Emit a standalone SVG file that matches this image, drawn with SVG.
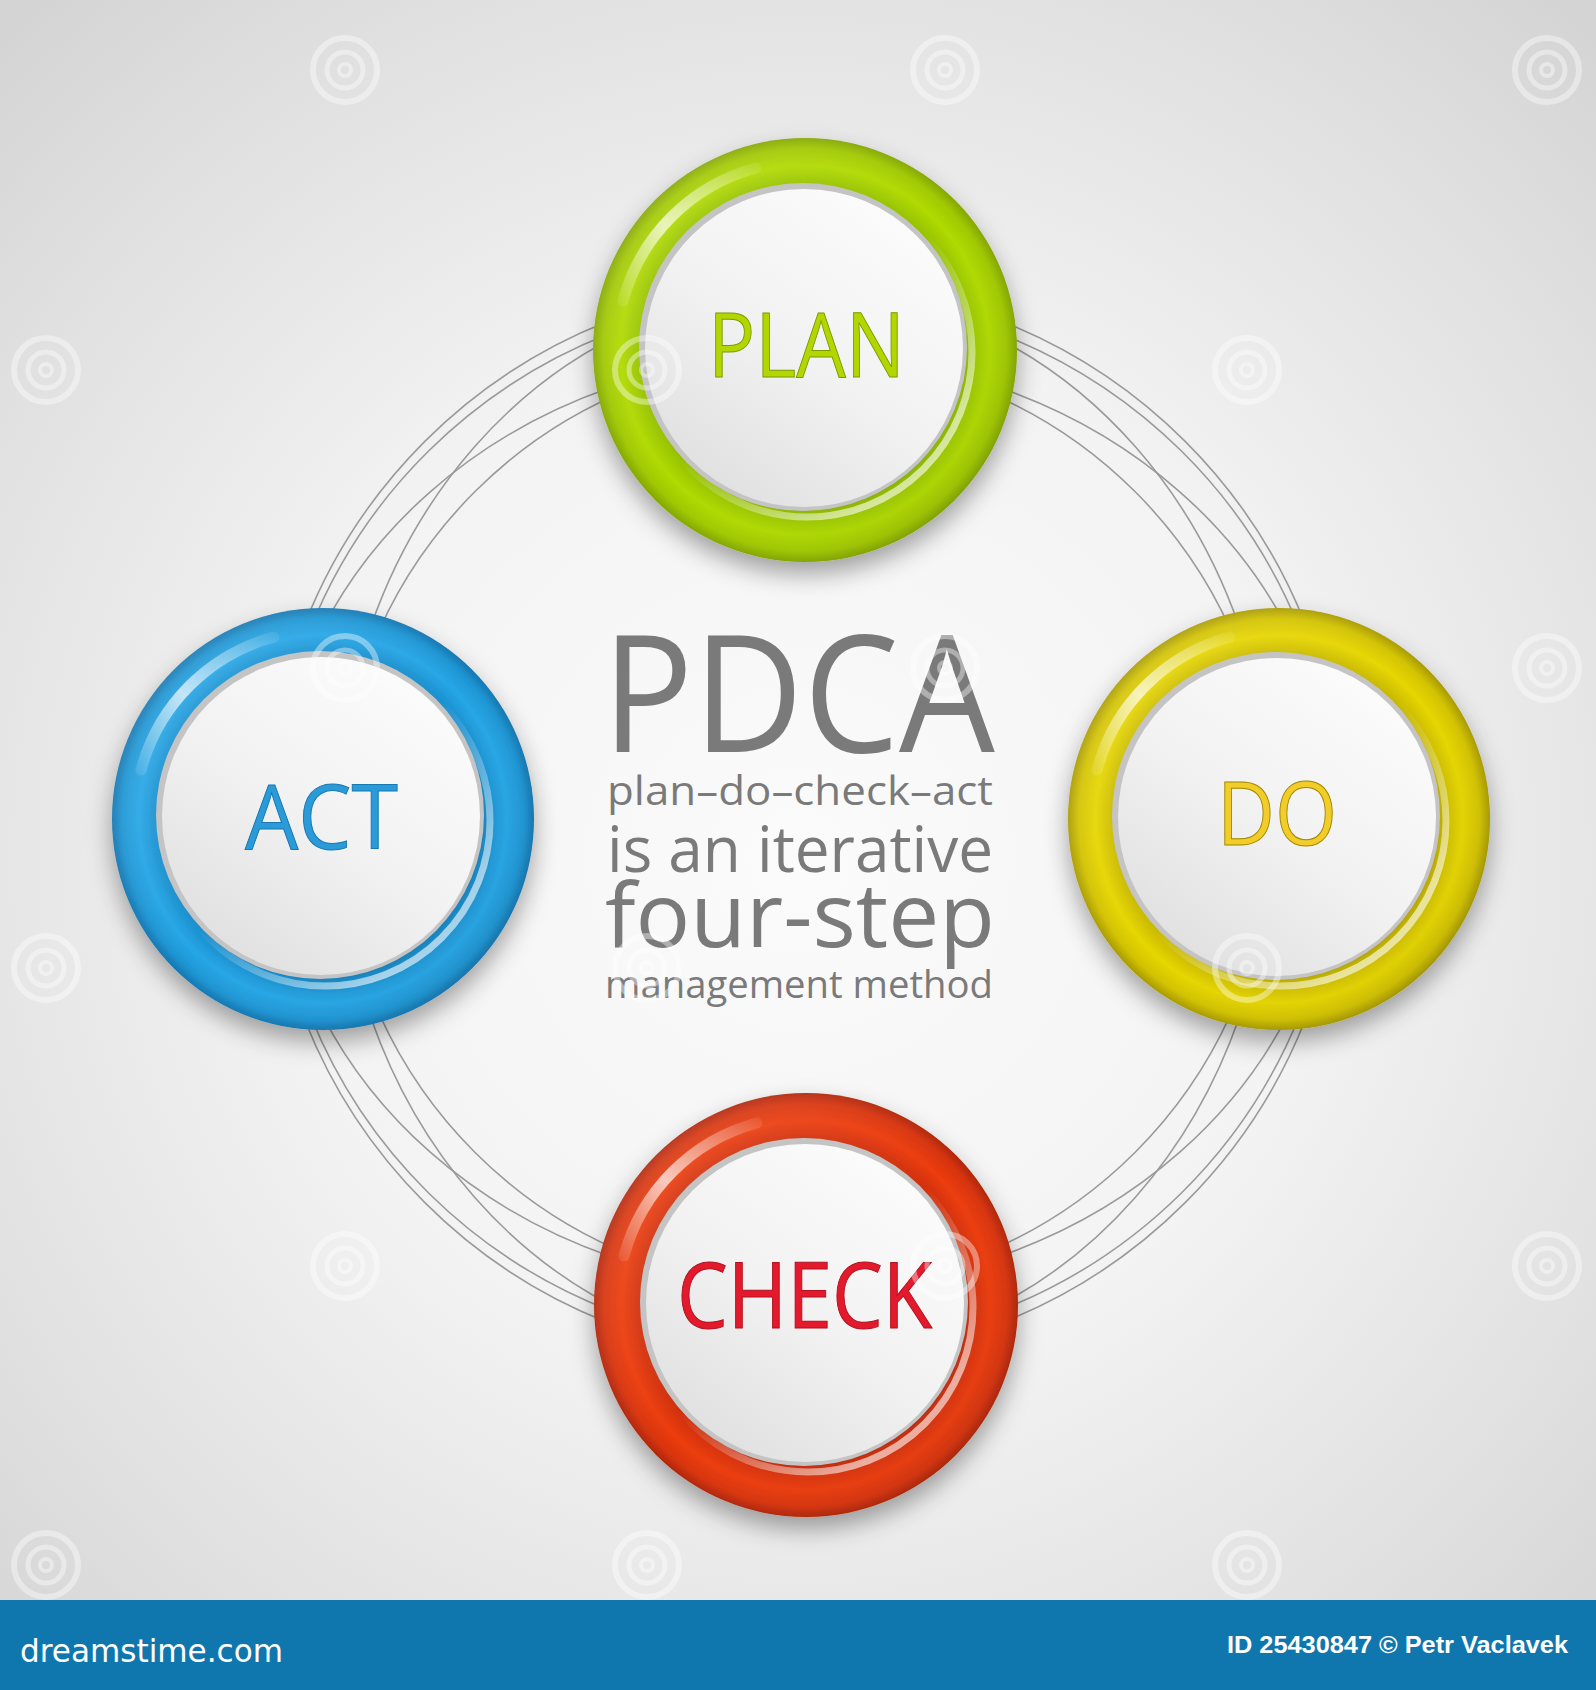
<svg xmlns="http://www.w3.org/2000/svg" width="1596" height="1690" viewBox="0 0 1596 1690">
<defs>
  <radialGradient id="bg" cx="800" cy="860" r="1150" gradientUnits="userSpaceOnUse">
    <stop offset="0" stop-color="#fbfbfb"/>
    <stop offset="0.45" stop-color="#f3f3f3"/>
    <stop offset="0.8" stop-color="#e0e0e0"/>
    <stop offset="1" stop-color="#d4d4d4"/>
  </radialGradient>
  <filter id="shadow" x="-30%" y="-30%" width="160%" height="170%">
    <feDropShadow dx="0" dy="12" stdDeviation="12" flood-color="#000" flood-opacity="0.35"/>
  </filter>
  <radialGradient id="ringGreen" cx="0.5" cy="0.5" r="0.5">
    <stop offset="0.72" stop-color="#7d9e00"/>
    <stop offset="0.78" stop-color="#97c200"/>
    <stop offset="0.87" stop-color="#b0da00"/>
    <stop offset="0.95" stop-color="#a0c800"/>
    <stop offset="1" stop-color="#84a600"/>
  </radialGradient>
  <radialGradient id="ringYellow" cx="0.5" cy="0.5" r="0.5">
    <stop offset="0.72" stop-color="#9c8e00"/>
    <stop offset="0.78" stop-color="#c8b800"/>
    <stop offset="0.87" stop-color="#e6d600"/>
    <stop offset="0.95" stop-color="#d2c200"/>
    <stop offset="1" stop-color="#a89a00"/>
  </radialGradient>
  <radialGradient id="ringBlue" cx="0.5" cy="0.5" r="0.5">
    <stop offset="0.72" stop-color="#1470a8"/>
    <stop offset="0.78" stop-color="#1a8ecc"/>
    <stop offset="0.87" stop-color="#26a6e6"/>
    <stop offset="0.95" stop-color="#1e96d4"/>
    <stop offset="1" stop-color="#1476b0"/>
  </radialGradient>
  <radialGradient id="ringRed" cx="0.5" cy="0.5" r="0.5">
    <stop offset="0.72" stop-color="#a82404"/>
    <stop offset="0.78" stop-color="#d0300a"/>
    <stop offset="0.87" stop-color="#ec3c0e"/>
    <stop offset="0.95" stop-color="#d8340c"/>
    <stop offset="1" stop-color="#b02606"/>
  </radialGradient>
  <linearGradient id="ringLight" x1="0" y1="0" x2="1" y2="1">
    <stop offset="0" stop-color="#fff" stop-opacity="0.15"/>
    <stop offset="0.5" stop-color="#fff" stop-opacity="0"/>
    <stop offset="1" stop-color="#000" stop-opacity="0.08"/>
  </linearGradient>
  <linearGradient id="gloss" x1="-190" y1="-30" x2="-30" y2="-190" gradientUnits="userSpaceOnUse">
    <stop offset="0" stop-color="#fff" stop-opacity="0"/>
    <stop offset="0.45" stop-color="#fff" stop-opacity="0.7"/>
    <stop offset="1" stop-color="#fff" stop-opacity="0"/>
  </linearGradient>
  <linearGradient id="disc" x1="0.8" y1="0.1" x2="0.2" y2="0.95">
    <stop offset="0" stop-color="#fbfbfb"/>
    <stop offset="0.5" stop-color="#f2f2f2"/>
    <stop offset="1" stop-color="#e0e0e0"/>
  </linearGradient>
  <linearGradient id="innerGlow" x1="0.2" y1="0.2" x2="0.8" y2="0.85">
    <stop offset="0.45" stop-color="#fff" stop-opacity="0"/>
    <stop offset="1" stop-color="#fff" stop-opacity="0.6"/>
  </linearGradient>
  <style>
    .rim { fill: #c4c4c4; }
    .shade { fill: url(#ringLight); }
    .gl { fill: none; stroke: url(#gloss); stroke-width: 11; stroke-linecap: round; }
    .glow { fill: none; stroke: url(#innerGlow); stroke-width: 7; }
    .lbl { font-family: "Open Sans", "Noto Sans", "Liberation Sans", sans-serif; font-weight: 400; }
    .conn { fill: none; stroke: #9a9a9a; stroke-width: 1.6; }
    .mid { font-family: "Open Sans", "Noto Sans", "Liberation Sans", sans-serif; fill: #7a7a7a; }
    .wm { fill: none; stroke: #ffffff; opacity: 0.4; }
  </style>
</defs>

<rect width="1596" height="1690" fill="url(#bg)"/>

<g id="connectors">
  <circle class="conn" cx="805" cy="822" r="538"/>
  <ellipse class="conn" cx="805" cy="822" rx="532" ry="525"/>
  <ellipse class="conn" cx="805" cy="822" rx="467" ry="531"/>
  <ellipse class="conn" cx="805" cy="822" rx="530" ry="467"/>
  <circle class="conn" cx="805" cy="822" r="467"/>
</g>

<g id="node-plan" transform="translate(805,350)">
  <circle r="212" fill="url(#ringGreen)" filter="url(#shadow)"/>
  <circle r="212" class="shade"/>
  <path class="gl" d="M -182 -49 A 188 188 0 0 1 -49 -182"/>
  <circle cx="2" cy="2" r="165" class="glow"/>
  <circle cx="-2" cy="-3" r="164" class="rim"/>
  <circle cx="-1" cy="-2" r="159" fill="url(#disc)"/>
  <text class="lbl" x="-97" y="27" font-size="90" textLength="197" lengthAdjust="spacingAndGlyphs" fill="#b2d600" stroke="#7e9a00" stroke-width="1">PLAN</text>
</g>

<g id="node-do" transform="translate(1279,819)">
  <circle r="211" fill="url(#ringYellow)" filter="url(#shadow)"/>
  <circle r="211" class="shade"/>
  <path class="gl" d="M -182 -49 A 188 188 0 0 1 -49 -182"/>
  <circle cx="2" cy="2" r="165" class="glow"/>
  <circle cx="-3" cy="-3" r="164" class="rim"/>
  <circle cx="-2" cy="-2" r="159" fill="url(#disc)"/>
  <text class="lbl" x="-62" y="26" font-size="88" textLength="120" lengthAdjust="spacingAndGlyphs" fill="#f2cc28" stroke="#a08800" stroke-width="1">DO</text>
</g>

<g id="node-act" transform="translate(323,819)">
  <circle r="211" fill="url(#ringBlue)" filter="url(#shadow)"/>
  <circle r="211" class="shade"/>
  <path class="gl" d="M -182 -49 A 188 188 0 0 1 -49 -182"/>
  <circle cx="2" cy="2" r="165" class="glow"/>
  <circle cx="-3" cy="-4" r="164" class="rim"/>
  <circle cx="-2" cy="-3" r="159" fill="url(#disc)"/>
  <text class="lbl" x="-78" y="30" font-size="90" textLength="153" lengthAdjust="spacingAndGlyphs" fill="#2a9ad8" stroke="#1878b0" stroke-width="1">ACT</text>
</g>

<g id="node-check" transform="translate(806,1305)">
  <circle r="212" fill="url(#ringRed)" filter="url(#shadow)"/>
  <circle r="212" class="shade"/>
  <path class="gl" d="M -182 -49 A 188 188 0 0 1 -49 -182"/>
  <circle cx="2" cy="2" r="165" class="glow"/>
  <circle cx="-2" cy="-3" r="164" class="rim"/>
  <circle cx="-1" cy="-2" r="159" fill="url(#disc)"/>
  <text class="lbl" x="-129" y="23" font-size="91" textLength="255" lengthAdjust="spacingAndGlyphs" fill="#e21a2c" stroke="#b01020" stroke-width="1">CHECK</text>
</g>

<g id="title">
  <text class="mid" x="602" y="752" font-size="163" textLength="393" lengthAdjust="spacingAndGlyphs">PDCA</text>
  <text class="mid" x="607" y="805" font-size="40" textLength="386" lengthAdjust="spacingAndGlyphs">plan–do–check–act</text>
  <text class="mid" x="607" y="872" font-size="64" textLength="386" lengthAdjust="spacingAndGlyphs">is an iterative</text>
  <text class="mid" x="605" y="947" font-size="90" textLength="390" lengthAdjust="spacingAndGlyphs">four-step</text>
  <text class="mid" x="605" y="998" font-size="38" textLength="388" lengthAdjust="spacingAndGlyphs">management method</text>
</g>

<g id="watermark-spirals">
  <g transform="translate(345,70)"><circle class="wm" r="32" stroke-width="6"/><circle class="wm" r="18" stroke-width="5"/><circle class="wm" r="6" stroke-width="4"/></g>
  <g transform="translate(945,70)"><circle class="wm" r="32" stroke-width="6"/><circle class="wm" r="18" stroke-width="5"/><circle class="wm" r="6" stroke-width="4"/></g>
  <g transform="translate(1547,70)"><circle class="wm" r="32" stroke-width="6"/><circle class="wm" r="18" stroke-width="5"/><circle class="wm" r="6" stroke-width="4"/></g>
  <g transform="translate(46,370)"><circle class="wm" r="32" stroke-width="6"/><circle class="wm" r="18" stroke-width="5"/><circle class="wm" r="6" stroke-width="4"/></g>
  <g transform="translate(647,370)"><circle class="wm" r="32" stroke-width="6"/><circle class="wm" r="18" stroke-width="5"/><circle class="wm" r="6" stroke-width="4"/></g>
  <g transform="translate(1247,370)"><circle class="wm" r="32" stroke-width="6"/><circle class="wm" r="18" stroke-width="5"/><circle class="wm" r="6" stroke-width="4"/></g>
  <g transform="translate(345,668)"><circle class="wm" r="32" stroke-width="6"/><circle class="wm" r="18" stroke-width="5"/><circle class="wm" r="6" stroke-width="4"/></g>
  <g transform="translate(945,668)"><circle class="wm" r="32" stroke-width="6"/><circle class="wm" r="18" stroke-width="5"/><circle class="wm" r="6" stroke-width="4"/></g>
  <g transform="translate(1547,668)"><circle class="wm" r="32" stroke-width="6"/><circle class="wm" r="18" stroke-width="5"/><circle class="wm" r="6" stroke-width="4"/></g>
  <g transform="translate(46,968)"><circle class="wm" r="32" stroke-width="6"/><circle class="wm" r="18" stroke-width="5"/><circle class="wm" r="6" stroke-width="4"/></g>
  <g transform="translate(647,968)"><circle class="wm" r="32" stroke-width="6"/><circle class="wm" r="18" stroke-width="5"/><circle class="wm" r="6" stroke-width="4"/></g>
  <g transform="translate(1247,968)"><circle class="wm" r="32" stroke-width="6"/><circle class="wm" r="18" stroke-width="5"/><circle class="wm" r="6" stroke-width="4"/></g>
  <g transform="translate(345,1266)"><circle class="wm" r="32" stroke-width="6"/><circle class="wm" r="18" stroke-width="5"/><circle class="wm" r="6" stroke-width="4"/></g>
  <g transform="translate(945,1266)"><circle class="wm" r="32" stroke-width="6"/><circle class="wm" r="18" stroke-width="5"/><circle class="wm" r="6" stroke-width="4"/></g>
  <g transform="translate(1547,1266)"><circle class="wm" r="32" stroke-width="6"/><circle class="wm" r="18" stroke-width="5"/><circle class="wm" r="6" stroke-width="4"/></g>
  <g transform="translate(46,1565)"><circle class="wm" r="32" stroke-width="6"/><circle class="wm" r="18" stroke-width="5"/><circle class="wm" r="6" stroke-width="4"/></g>
  <g transform="translate(647,1565)"><circle class="wm" r="32" stroke-width="6"/><circle class="wm" r="18" stroke-width="5"/><circle class="wm" r="6" stroke-width="4"/></g>
  <g transform="translate(1247,1565)"><circle class="wm" r="32" stroke-width="6"/><circle class="wm" r="18" stroke-width="5"/><circle class="wm" r="6" stroke-width="4"/></g>
</g>

<g id="footer">
  <rect x="0" y="1600" width="1596" height="90" fill="#1077ae"/>
  <text x="20" y="1662" font-family="'DejaVu Sans', sans-serif" font-size="32" fill="#ffffff" textLength="263" lengthAdjust="spacingAndGlyphs">dreamstime.com</text>
  <text x="1227" y="1653" font-family="'Liberation Sans', Arial, sans-serif" font-weight="bold" font-size="24" fill="#ffffff" textLength="341" lengthAdjust="spacingAndGlyphs">ID 25430847 © Petr Vaclavek</text>
</g>
</svg>
